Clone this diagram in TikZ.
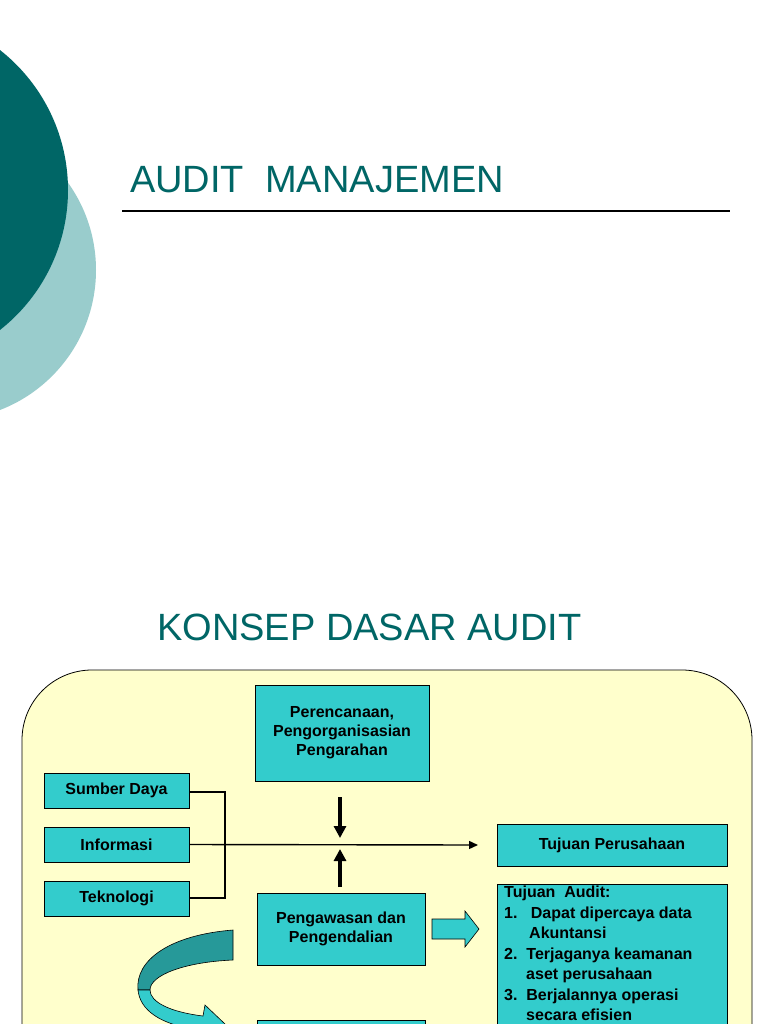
\documentclass[tikz,border=0pt]{standalone}
\usepackage{fontspec}
\setmainfont{Liberation Sans}
\usetikzlibrary{arrows.meta}
\definecolor{dteal}{HTML}{006666}
\definecolor{lteal}{HTML}{99CCCC}
\definecolor{boxc}{HTML}{33CCCC}
\definecolor{ttl}{HTML}{006666}
\definecolor{ylw}{HTML}{FFFFCC}
\begin{document}
\begin{tikzpicture}[x=1pt,y=-1pt,
 bx/.style={draw=black,fill=boxc,line width=0.8pt,inner sep=2pt,font=\fontsize{16}{19}\selectfont\bfseries,align=center},
 ln/.style={line width=1.4pt},
 fat/.style={line width=4pt,-{Triangle[width=12pt,length=12pt]}}]
\useasboundingbox (0,0) rectangle (768,1024);
\fill[white] (0,0) rectangle (768,1024);
\begin{scope}
\clip (0,0) rectangle (768,1024);
\fill[lteal] (-54,270) circle (150);
\fill[dteal] (-110,190) circle (178);
\node[anchor=base west,text=ttl,font=\fontsize{38}{40}\selectfont,inner sep=0] (t1) at (130,193) {AUDIT\ \ MANAJEMEN};
\draw[line width=1.2pt] (122,211) -- (730,211);
\node[anchor=base west,text=ttl,font=\fontsize{38}{40}\selectfont,inner sep=0] (t2) at (157,640) {KONSEP DASAR AUDIT};
\draw[fill=ylw,line width=0.8pt,rounded corners=70pt] (22,1100) -- (22,670) -- (752,670) -- (752,1100);
\node[bx,minimum width=174pt,minimum height=96pt] (pp) at (342,733) {Perencanaan,\\Pengorganisasian\\Pengarahan};
\node[bx,minimum width=145pt,minimum height=35pt] (sd) at (116.5,790.5) {Sumber Daya};
\node[bx,minimum width=145pt,minimum height=35pt] (inf) at (116.5,844.5) {Informasi};
\node[bx,minimum width=145pt,minimum height=35pt] (tek) at (116.5,898.5) {Teknologi};
\node[bx,minimum width=230pt,minimum height=42pt] (tp) at (612,845) {Tujuan Perusahaan};
\node[bx,minimum width=168pt,minimum height=72pt] (pg) at (341,929) {Pengawasan dan\\Pengendalian};
\node[bx,minimum width=168pt,minimum height=40pt] (bt) at (341,1040) {};
\node[bx,minimum width=230pt,minimum height=160pt,anchor=north west,align=left,text width=222pt] (ta) at (497,884) {};
\node[anchor=north west,inner sep=0,font=\fontsize{16}{20.5}\selectfont\bfseries,align=left] (tat) at (504,886) {Tujuan\ \ Audit:\\
1.\ \ \ Dapat dipercaya data\\
\hspace*{25pt}Akuntansi\\
2.\ \ Terjaganya keamanan\\
\hspace*{22pt}aset perusahaan\\
3.\ \ Berjalannya operasi\\
\hspace*{22pt}secara efisien};
\coordinate (j1) at (225,792);
\coordinate (j2) at (225,898);
\draw[ln] (sd.east |- 0,792) -- (j1) -- (j2) -- (tek.east |- 0,898);
\coordinate (ae) at (478,845);
\draw[ln,-{Triangle[width=8pt,length=9pt]}] (inf.east) -- (ae);
\coordinate (d1) at (340,797); \coordinate (d2) at (340,838);
\draw[fat] (d1) -- (d2);
\coordinate (u1) at (340,887); \coordinate (u2) at (340,849);
\draw[fat] (u1) -- (u2);
\draw[fill=boxc,line width=0.6pt] (432,919) -- (465,919) -- (465,911) -- (479,929) -- (465,947) -- (465,939) -- (432,939) -- cycle;
\draw[fill=boxc!75!black,line width=0.6pt] (233,930) .. controls (170,935) and (135,960) .. (138,990)
 -- (150,990) .. controls (150,975) and (185,962) .. (233,960) -- cycle;
\draw[fill=boxc,line width=0.6pt] (138,990) .. controls (140,1010) and (160,1025) .. (200,1030)
 -- (198,1040) -- (225,1024) -- (205,1005) -- (203,1016)
 .. controls (170,1012) and (150,1002) .. (150,990) -- cycle;
\end{scope}
\end{tikzpicture}
\end{document}
